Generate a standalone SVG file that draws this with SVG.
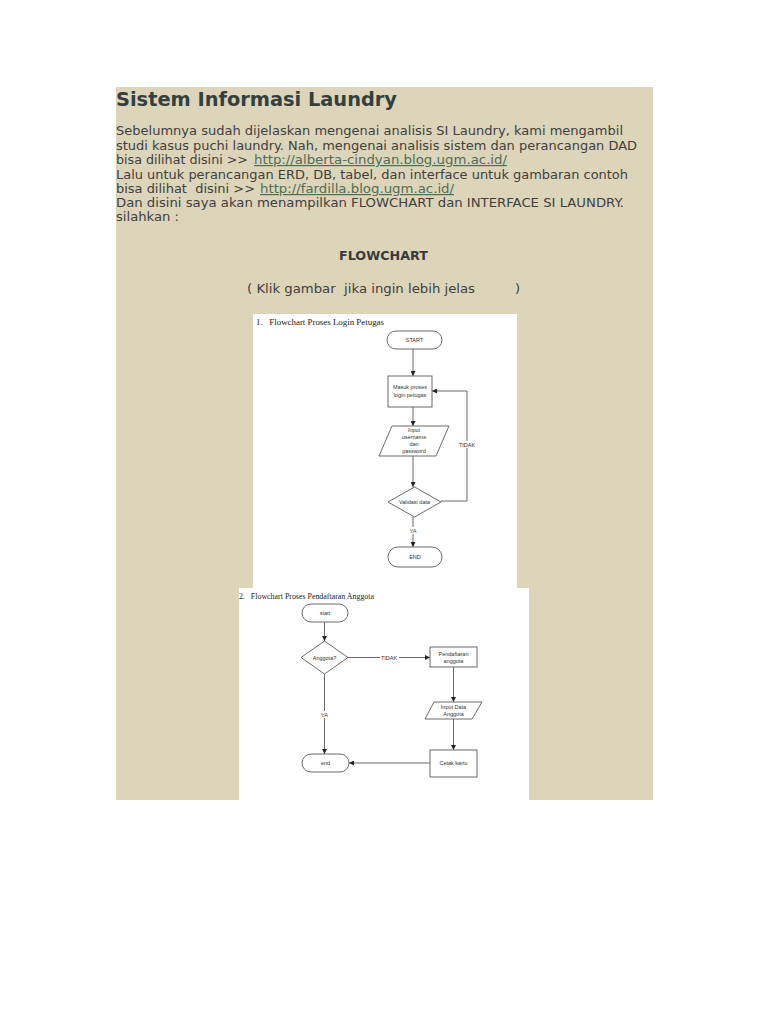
<svg xmlns="http://www.w3.org/2000/svg" width="768" height="1024" viewBox="0 0 768 1024">
<style>
.body{font-family:"DejaVu Sans","Verdana",sans-serif;font-size:12px;fill:#404040;white-space:pre}
.link{font-family:"DejaVu Sans","Verdana",sans-serif;font-size:12px;fill:#4d6e57;text-decoration:underline}
.ttl{font-family:"Liberation Serif","Times New Roman",serif;font-size:8px;fill:#222;white-space:pre}
.lbl{font-family:"Liberation Sans",Arial,sans-serif;font-size:5.5px;fill:#333;text-anchor:middle}
.shape{fill:#fff;stroke:#5a5a5a;stroke-width:0.9}
.edge{fill:none;stroke:#5a5a5a;stroke-width:0.9}
</style>
<defs>
<marker id="ah" viewBox="0 0 6 6" refX="6" refY="3" markerWidth="5" markerHeight="5" orient="auto" markerUnits="userSpaceOnUse">
<path d="M0,0 L6,3 L0,6 z" fill="#222"/>
</marker>
</defs>
<rect width="768" height="1024" fill="#fff"/>
<rect x="116" y="87" width="537" height="713" fill="#ddd5b9"/>
<text x="116" y="106" font-family="DejaVu Sans, Verdana, sans-serif" font-size="20" font-weight="bold" fill="#34403d" textLength="281" lengthAdjust="spacingAndGlyphs">Sistem Informasi Laundry</text>
<text class="body" x="116" y="135" textLength="507" lengthAdjust="spacingAndGlyphs">Sebelumnya sudah dijelaskan mengenai analisis SI Laundry, kami mengambil</text>
<text class="body" x="116" y="149.5" textLength="521" lengthAdjust="spacingAndGlyphs">studi kasus puchi laundry. Nah, mengenai analisis sistem dan perancangan DAD</text>
<text class="body" x="116" y="164" textLength="132" lengthAdjust="spacingAndGlyphs">bisa dilihat disini &gt;&gt;</text>
<text class="link" x="254" y="164" textLength="253" lengthAdjust="spacingAndGlyphs">http://alberta-cindyan.blog.ugm.ac.id/</text>
<text class="body" x="116" y="178.5" textLength="512" lengthAdjust="spacingAndGlyphs">Lalu untuk perancangan ERD, DB, tabel, dan interface untuk gambaran contoh</text>
<text class="body" x="116" y="193" textLength="139" lengthAdjust="spacingAndGlyphs" xml:space="preserve">bisa dilihat  disini &gt;&gt;</text>
<text class="link" x="260" y="193" textLength="194" lengthAdjust="spacingAndGlyphs">http://fardilla.blog.ugm.ac.id/</text>
<text class="body" x="116" y="207" textLength="508" lengthAdjust="spacingAndGlyphs">Dan disini saya akan menampilkan FLOWCHART dan INTERFACE SI LAUNDRY.</text>
<text class="body" x="116" y="221" textLength="63" lengthAdjust="spacingAndGlyphs">silahkan :</text>
<text x="339" y="260" font-family="DejaVu Sans, Verdana, sans-serif" font-size="11.5" font-weight="bold" fill="#3a3a3a" textLength="89" lengthAdjust="spacingAndGlyphs">FLOWCHART</text>
<text class="body" x="247" y="293" style="font-size:13px" textLength="228" lengthAdjust="spacingAndGlyphs" xml:space="preserve">( Klik gambar  jika ingin lebih jelas</text>
<text class="body" x="515" y="293" style="font-size:13px">)</text>

<rect x="253" y="314" width="264" height="274" fill="#fff"/>
<rect x="239" y="588" width="290" height="212" fill="#fff"/>

<text class="ttl" x="256" y="325" textLength="128" lengthAdjust="spacingAndGlyphs" xml:space="preserve">1.   Flowchart Proses Login Petugas</text>
<text class="ttl" x="239" y="599" textLength="135" lengthAdjust="spacingAndGlyphs" xml:space="preserve">2.   Flowchart Proses Pendaftaran Anggota</text>

<g id="connectors">
<line class="edge" x1="413" y1="349" x2="413" y2="376" marker-end="url(#ah)"/>
<line class="edge" x1="413" y1="407" x2="413" y2="426" marker-end="url(#ah)"/>
<line class="edge" x1="413" y1="456" x2="413" y2="487" marker-end="url(#ah)"/>
<polyline class="edge" points="441,501 467,501 467,391 432,391" marker-end="url(#ah)"/>
<rect x="457" y="441" width="21" height="7" fill="#fff"/>
<text class="lbl" x="467" y="447">TIDAK</text>
<line class="edge" x1="413" y1="517" x2="413" y2="547" marker-end="url(#ah)"/>
<rect x="408" y="527" width="11" height="7" fill="#fff"/>
<text class="lbl" x="413" y="533">YA</text>

<line class="edge" x1="324.5" y1="622" x2="324.5" y2="641" marker-end="url(#ah)"/>
<line class="edge" x1="348" y1="657.5" x2="430" y2="657.5" marker-end="url(#ah)"/>
<rect x="380" y="654" width="19" height="7" fill="#fff"/>
<text class="lbl" x="389" y="659.5">TIDAK</text>
<line class="edge" x1="453.5" y1="667" x2="453.5" y2="702" marker-end="url(#ah)"/>
<line class="edge" x1="453.5" y1="719" x2="453.5" y2="750" marker-end="url(#ah)"/>
<line class="edge" x1="430" y1="763" x2="349" y2="763" marker-end="url(#ah)"/>
<line class="edge" x1="324.5" y1="674" x2="324.5" y2="754" marker-end="url(#ah)"/>
<rect x="319" y="711" width="11" height="7" fill="#fff"/>
<text class="lbl" x="324.5" y="717">YA</text>
</g>

<g id="start1">
<rect class="shape" x="387" y="331" width="55" height="18" rx="9"/>
<text class="lbl" x="414.5" y="342">START</text>
</g>
<g id="masuk">
<rect class="shape" x="388" y="376" width="44" height="31"/>
<text class="lbl" x="410" y="389">Masuk proses</text>
<text class="lbl" x="410" y="397">login petugas</text>
</g>
<g id="input1">
<polygon class="shape" points="392,426 449,426 436,456 379,456"/>
<text class="lbl" x="414" y="432">Input</text>
<text class="lbl" x="414" y="439">username</text>
<text class="lbl" x="414" y="446">dan</text>
<text class="lbl" x="414" y="453">password</text>
</g>
<g id="validasi">
<polygon class="shape" points="388,502 414.5,487 441,502 414.5,517"/>
<text class="lbl" x="414.5" y="504">Validasi data</text>
</g>
<g id="end1">
<rect class="shape" x="388" y="547" width="54" height="20" rx="10"/>
<text class="lbl" x="415" y="559">END</text>
</g>

<g id="start2">
<rect class="shape" x="302" y="604" width="46" height="18" rx="9"/>
<text class="lbl" x="325" y="614.5">start</text>
</g>
<g id="anggota">
<polygon class="shape" points="301,657.5 324.5,641 348,657.5 324.5,674"/>
<text class="lbl" x="324.5" y="659.5">Anggota?</text>
</g>
<g id="pendaftaran">
<rect class="shape" x="430" y="647" width="47" height="20"/>
<text class="lbl" x="453.5" y="655.5">Pendaftaran</text>
<text class="lbl" x="453.5" y="662.5">anggota</text>
</g>
<g id="inputdata">
<polygon class="shape" points="434,702 482,702 472,719 425,719"/>
<text class="lbl" x="453.5" y="709">Input Data</text>
<text class="lbl" x="453.5" y="716">Anggota</text>
</g>
<g id="cetak">
<rect class="shape" x="430" y="750" width="47" height="27"/>
<text class="lbl" x="453.5" y="765">Cetak kartu</text>
</g>
<g id="end2">
<rect class="shape" x="302" y="754" width="47" height="18" rx="9"/>
<text class="lbl" x="325.5" y="765">end</text>
</g>
</svg>
